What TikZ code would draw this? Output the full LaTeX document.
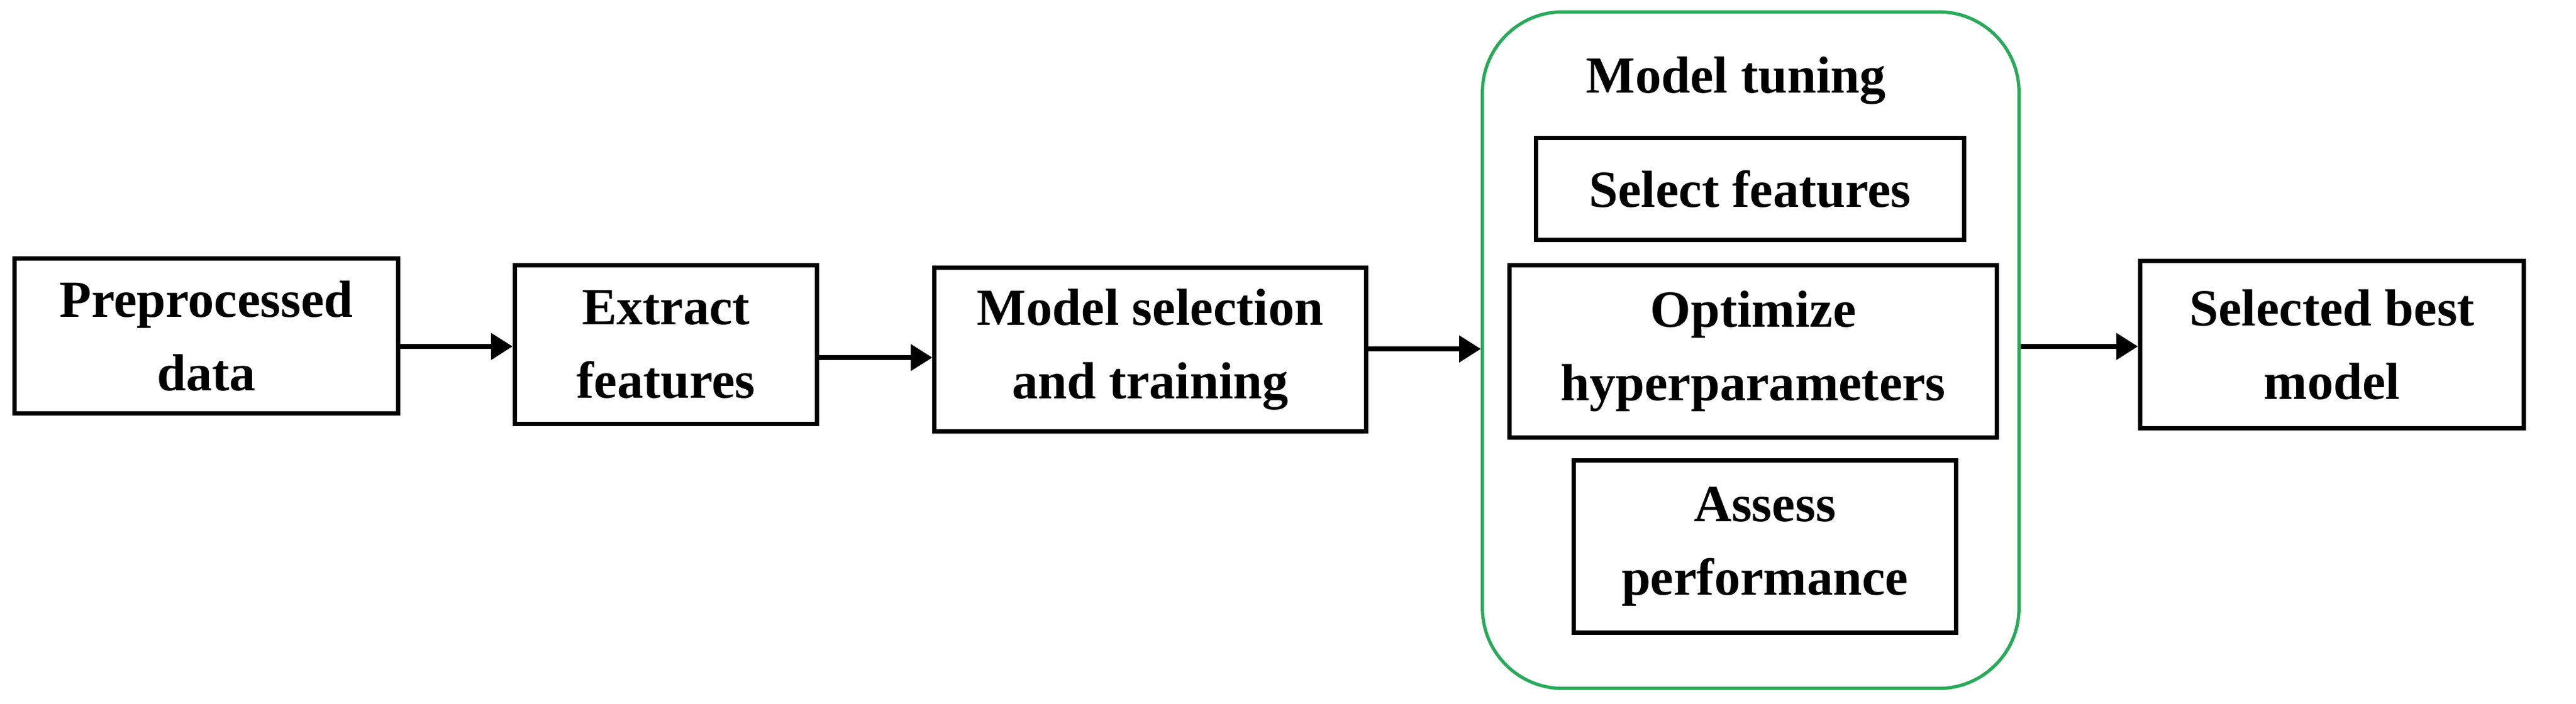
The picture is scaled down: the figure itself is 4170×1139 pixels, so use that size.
\documentclass[tikz,border=0pt]{standalone}
\usepackage{fontspec}
\setmainfont{Liberation Serif}
\usetikzlibrary{arrows.meta}
\begin{document}
\begin{tikzpicture}[x=0.01cm,y=-0.01cm,
  box/.style={draw=black,line width=2pt,inner sep=0pt,align=center,font=\fontsize{24}{34}\selectfont\bfseries},
  arr/.style={line width=2pt,-{Triangle[length=0.35cm,width=0.42cm]}},
  grp/.style={draw={rgb,255:red,40;green,170;blue,90},line width=1.5pt,rounded corners=1.3cm}]
\useasboundingbox (0,0) rectangle (4170,1139);
\node[box,minimum width=6.2cm,minimum height=2.51cm] (pp) at (334,544) {Preprocessed\\data};
\node[box,minimum width=4.89cm,minimum height=2.56cm] (ex) at (1078,558) {Extract\\features};
\node[box,minimum width=6.98cm,minimum height=2.65cm] (ms) at (1862,566) {Model selection\\and training};
\node[grp,minimum width=8.68cm,minimum height=10.95cm] (tune) at (2834,567) {};
\node[font=\fontsize{24}{34}\selectfont\bfseries] (tt) at (2810,131) {Model tuning};
\node[box,minimum width=6.92cm,minimum height=1.65cm] (sf) at (2833,306) {Select features};
\node[box,minimum width=7.89cm,minimum height=2.78cm] (oh) at (2838,569) {Optimize\\hyperparameters};
\node[box,minimum width=6.18cm,minimum height=2.78cm] (ap) at (2857,885) {Assess\\performance};
\node[box,minimum width=6.21cm,minimum height=2.71cm] (sb) at (3775,558) {Selected best\\model};
\draw[arr] (pp.east |- 0,561) -- (ex.west |- 0,561);
\draw[arr] (ex.east |- 0,579) -- (ms.west |- 0,579);
\draw[arr] (ms.east |- 0,565) -- (tune.west |- 0,565);
\draw[arr] (tune.east |- 0,561) -- (sb.west |- 0,561);
\end{tikzpicture}
\end{document}
